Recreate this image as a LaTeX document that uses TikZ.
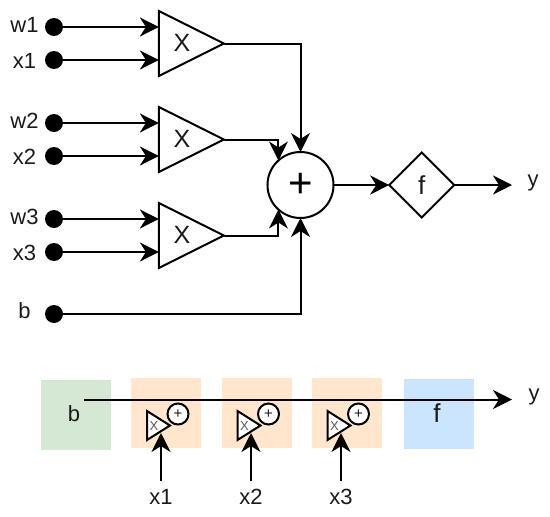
\documentclass[tikz,border=0pt]{standalone}
\usepackage{fontspec}
\setmainfont{Liberation Sans}
\usetikzlibrary{arrows.meta,shapes.geometric,calc}
\definecolor{ink}{HTML}{1A1A1A}
\definecolor{cellgreen}{HTML}{D5E8D4}
\definecolor{cellorange}{HTML}{FFE6CC}
\definecolor{cellblue}{HTML}{CCE5FF}
\tikzset{
  conn/.style={draw=black,line width=2pt,-{Stealth[length=19pt,width=19pt,inset=6pt]}},
  dot/.style={circle,fill=black,minimum size=18pt,inner sep=0pt,outer sep=0pt},
  lbl/.style={font=\fontsize{22}{22}\selectfont,text=ink,inner sep=0pt},
  mul/.style={isosceles triangle,isosceles triangle stretches,shape border rotate=0,draw=black,line width=2pt,fill=white,minimum width=65pt,minimum height=65pt,inner sep=0pt,outer sep=0pt},
  mulsym/.style={font=\fontsize{25}{25}\selectfont,text=ink,inner sep=0pt},
  sum/.style={circle,draw=black,line width=2pt,minimum size=66pt,inner sep=0pt,outer sep=0pt,font=\fontsize{42}{42}\selectfont},
  act/.style={diamond,draw=black,line width=2pt,minimum width=65pt,minimum height=65pt,inner sep=0pt,outer sep=0pt,font=\fontsize{26}{26}\selectfont,text=ink},
  cell/.style={minimum width=70pt,minimum height=70pt,inner sep=0pt,outer sep=0pt},
  smul/.style={isosceles triangle,isosceles triangle stretches,draw=black,line width=2pt,fill=white,minimum width=29pt,minimum height=23pt,inner sep=0pt,outer sep=0pt},
  ssum/.style={circle,draw=black,line width=2pt,fill=white,minimum size=21pt,inner sep=0pt,outer sep=0pt,font=\fontsize{15}{15}\selectfont,text=ink},
  ssym/.style={font=\fontsize{13}{13}\selectfont,text=black!65,inner sep=0pt},
}
\begin{document}
\begin{tikzpicture}[x=1pt,y=-1pt]
\useasboundingbox (0,0) rectangle (550,517);
% dots and labels
\foreach \n/\t/\yy/\ly in {dw1/w1/27/25,dx1/x1/60/61,dw2/w2/123/121,dx2/x2/156/157,dw3/w3/219/217,dx3/x3/252/253,db/b/314/311}{
  \node[dot] (\n) at (54,\yy) {};
  \node[lbl] (l\n) at (24.5,\ly) {\t};
}
% multipliers
\node[mul] (t1) at (179,43.5) {};
\node[mul] (t2) at (179,139.5) {};
\node[mul] (t3) at (179,235.5) {};
\node[mulsym] (s1) at (182,43) {X};
\node[mulsym] (s2) at (182,139) {X};
\node[mulsym] (s3) at (182,235) {X};
% sum, activation
\node[sum] (add) at (300.5,185) {+};
\node[act] (fn) at (421.7,185) {f};
\coordinate (yend) at (512,185);
\node[lbl] (yl) at (533,183) {y};
% inputs
\foreach \d/\t in {dw1/t1,dx1/t1,dw2/t2,dx2/t2,dw3/t3,dx3/t3}{
  \draw[conn] (\d) -- (\d -| \t.left corner);
}
% to the sum
\draw[conn] (t1.apex) -| (add.north);
\coordinate (c2) at (add.132);
\coordinate (c3) at (add.228);
\draw[conn] (t2.apex) -| (c2);
\draw[conn] (t3.apex) -| (c3);
\draw[conn] (db) -| (add.south);
\draw[conn] (add) -- (fn);
\draw[conn] (fn) -- (yend);
% lower row
\node[cell,fill=cellgreen] (cb) at (76,414.5) {};
\node[cell,fill=cellorange] (c1) at (166,413) {};
\node[cell,fill=cellorange] (c2b) at (256.5,413) {};
\node[cell,fill=cellorange] (c3b) at (346.5,413) {};
\node[cell,fill=cellblue] (cf) at (438.5,413.5) {};
\node[lbl] (bl) at (74,414) {b};
\node[lbl,font=\fontsize{26}{26}\selectfont] (fl) at (437,413) {f};
\coordinate (ls) at (84,399.5);
\coordinate (le) at (512,399.5);
\draw[conn] (ls) -- (le);
\node[lbl] (y2) at (534,397) {y};
\foreach \i/\x/\xa in {1/0/161,2/90.5/251,3/180.5/341}{
  \node[smul] (m\i) at (155+\x,425.5) {};
  \node[ssym] (mx\i) at (154+\x,426) {X};
  \node[ssum] (p\i) at (178+\x,414) {+};
  \node[lbl] (xl\i) at (\xa,497) {x\i};
  \coordinate (xs\i) at (\xa,481);
  \coordinate (xe\i) at (\xa,433);
  \draw[conn] (xs\i) -- (xe\i);
}
\end{tikzpicture}
\end{document}
